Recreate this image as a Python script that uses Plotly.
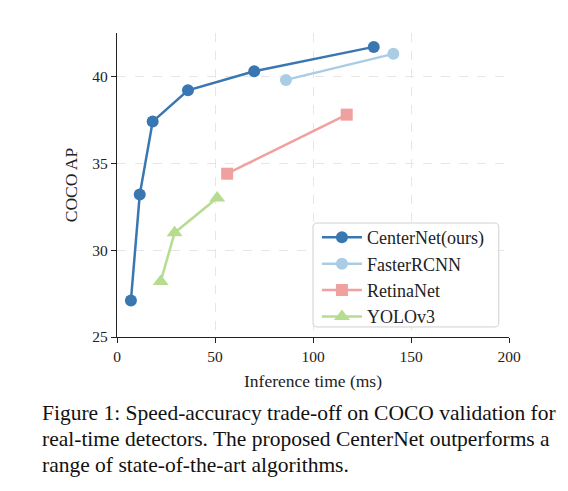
import plotly.graph_objects as go

# inference time (ms) and COCO AP
centernet_time = [7.1, 11.6, 18.2, 36.2, 70.0, 131.0]
centernet_ap = [27.1, 33.2, 37.4, 39.2, 40.3, 41.7]

faster_time = [86.2, 141.0]
faster_ap = [39.8, 41.3]

retina_time = [56.2, 117.2]
retina_ap = [34.4, 37.8]

yolo_time = [22.3, 29.4, 51.1]
yolo_ap = [28.2, 31.0, 33.0]

caption_lines = [
    "Figure 1: Speed-accuracy trade-off on COCO validation for",
    "real-time detectors. The proposed CenterNet outperforms a",
    "range of state-of-the-art algorithms.",
]

font_name = "Liberation Serif"

fig = go.Figure()

# one trace per detector
fig.add_trace(go.Scatter(
    x=centernet_time, y=centernet_ap, mode='lines+markers', name='CenterNet(ours)',
    line=dict(color='#3977b3', width=2.5),
    marker=dict(symbol='circle', size=12, color='#3977b3')
))
fig.add_trace(go.Scatter(
    x=faster_time, y=faster_ap, mode='lines+markers', name='FasterRCNN',
    line=dict(color='#a9cde4', width=2.5),
    marker=dict(symbol='circle', size=12, color='#a9cde4')
))
fig.add_trace(go.Scatter(
    x=retina_time, y=retina_ap, mode='lines+markers', name='RetinaNet',
    line=dict(color='#f0a09f', width=2.5),
    marker=dict(symbol='square', size=12, color='#f0a09f')
))
fig.add_trace(go.Scatter(
    x=yolo_time, y=yolo_ap, mode='lines+markers', name='YOLOv3',
    line=dict(color='#b6dc90', width=2.5),
    marker=dict(symbol='triangle-up', size=14, color='#b6dc90')
))

axis_style = dict(
    showline=True, linecolor='#222222', linewidth=1.3,
    ticks='outside', ticklen=5, tickcolor='#222222', tickwidth=1.2,
    showgrid=True, gridcolor='#e6e6e6', gridwidth=1, griddash='dash',
    zeroline=False, mirror=False,
    tickfont=dict(family=font_name, size=15.5, color='#222222'),
)

fig.update_xaxes(axis_style, range=[0, 200], tickvals=[0, 50, 100, 150, 200],
                 title=dict(text='Inference time (ms)', standoff=10,
                            font=dict(family=font_name, size=17.5, color='#222222')))
fig.update_yaxes(axis_style, range=[25, 42.5], tickvals=[25, 30, 35, 40],
                 title=dict(text='COCO AP', standoff=10,
                            font=dict(family=font_name, size=17.5, color='#222222')))

# rounded frame for the legend (plotly legends have square corners)
x0, x1, y0, y1 = 0.50, 0.974, 0.033, 0.375
rx, ry = 0.011, 0.014
frame = (f"M {x0+rx},{y0} L {x1-rx},{y0} Q {x1},{y0} {x1},{y0+ry} "
         f"L {x1},{y1-ry} Q {x1},{y1} {x1-rx},{y1} L {x0+rx},{y1} "
         f"Q {x0},{y1} {x0},{y1-ry} L {x0},{y0+ry} Q {x0},{y0} {x0+rx},{y0} Z")
fig.add_shape(type='path', path=frame, xref='paper', yref='paper',
              fillcolor='rgba(255,255,255,0.85)', line=dict(color='#d0d0d0', width=1),
              layer='above')

# figure caption under the plot
caption_y = [-0.25, -0.3355, -0.421]
for text, yy in zip(caption_lines, caption_y):
    fig.add_annotation(
        text=text, xref='paper', yref='paper', x=-0.196, y=yy,
        xanchor='left', yanchor='middle', showarrow=False,
        font=dict(family=font_name, size=21.5, color='#111111')
    )

# page body has an 8px margin, so the margins are trimmed by that much
fig.update_layout(
    width=568, height=491,
    margin=dict(l=109, r=67, t=25, b=162),
    plot_bgcolor='white', paper_bgcolor='white',
    font=dict(family=font_name, color='#222222'),
    legend=dict(
        x=0.510, y=0.388, xanchor='left', yanchor='top',
        bgcolor='rgba(0,0,0,0)', borderwidth=0,
        font=dict(family=font_name, size=18, color='#222222'),
        itemwidth=40
    )
)

fig.write_html("out.html")
